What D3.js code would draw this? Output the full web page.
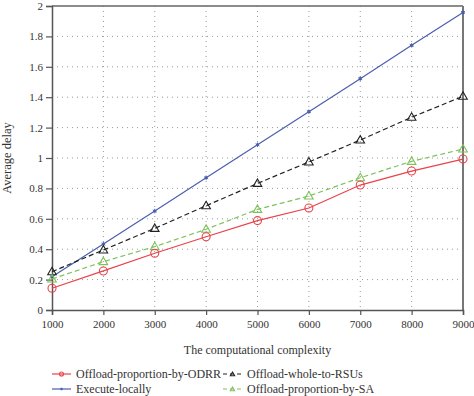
<!DOCTYPE html>
<html>
<head>
<meta charset="utf-8">
<script src="https://cdn.jsdelivr.net/npm/d3@7"></script>
<style>
  body { margin: 0; background: #fff; }
  svg { display: block; font-family: "Liberation Serif", "DejaVu Serif", serif; }
</style>
</head>
<body>
<div id="chart"></div>
<script>
// computational complexity (x values)
const complexity = [1000, 2000, 3000, 4000, 5000, 6000, 7000, 8000, 9000];

// average delay per method
const odrr = [0.143, 0.257, 0.373, 0.482, 0.588, 0.671, 0.822, 0.914, 0.993];
const local = [0.219, 0.434, 0.651, 0.870, 1.087, 1.305, 1.522, 1.741, 1.958];
const wholeRsu = [0.252, 0.395, 0.537, 0.686, 0.833, 0.974, 1.118, 1.268, 1.406];
const saProp = [0.204, 0.318, 0.417, 0.531, 0.662, 0.750, 0.870, 0.978, 1.059];

const xTicks = [1000, 2000, 3000, 4000, 5000, 6000, 7000, 8000, 9000];
const yTicks = [0, 0.2, 0.4, 0.6, 0.8, 1, 1.2, 1.4, 1.6, 1.8, 2];

const series = [
  { name: "Offload-proportion-by-ODRR", values: odrr, color: "#e8434b", dash: null, marker: "circle" },
  { name: "Execute-locally", values: local, color: "#4a5fae", dash: null, marker: "star" },
  { name: "Offload-whole-to-RSUs", values: wholeRsu, color: "#222", dash: "5,3", marker: "triangle" },
  { name: "Offload-proportion-by-SA", values: saProp, color: "#7dc25a", dash: "5,3", marker: "triangle" }
];

const W = 474, H = 396;
const margin = { top: 6, right: 11, bottom: 86, left: 52 };
const width = W - margin.left - margin.right,
  height = H - margin.top - margin.bottom;

const svg = d3.select("#chart")
  .append("svg")
  .attr("width", W)
  .attr("height", H);

const g = svg.append("g")
  .attr("transform", `translate(${margin.left},${margin.top})`);

const x = d3.scaleLinear().domain([1000, 9000]).range([0, width]);
const y = d3.scaleLinear().domain([0, 2]).range([height, 0]);

// dotted grid
g.append("g")
  .selectAll("line")
  .data(xTicks.slice(1, -1))
  .join("line")
  .attr("x1", d => x(d)).attr("x2", d => x(d))
  .attr("y1", 0).attr("y2", height)
  .attr("stroke", "#999").attr("stroke-width", 1)
  .attr("stroke-dasharray", "1,4");
g.append("g")
  .selectAll("line")
  .data(yTicks.slice(1, -1))
  .join("line")
  .attr("x1", 0).attr("x2", width)
  .attr("y1", d => y(d)).attr("y2", d => y(d))
  .attr("stroke", "#999").attr("stroke-width", 1)
  .attr("stroke-dasharray", "1,4");

// frame top / right
g.append("line").attr("x1", 0).attr("x2", width).attr("y1", 0).attr("y2", 0)
  .attr("stroke", "#666").attr("stroke-width", 1.5);
g.append("line").attr("x1", width).attr("x2", width).attr("y1", 0).attr("y2", height)
  .attr("stroke", "#777").attr("stroke-width", 2);

// axes
const xAxis = g.append("g")
  .attr("transform", `translate(0,${height})`)
  .call(d3.axisBottom(x).tickValues(xTicks).tickFormat(d3.format("d")).tickSize(5).tickPadding(5));
const yAxis = g.append("g")
  .call(d3.axisLeft(y).tickValues(yTicks).tickFormat(d => d).tickSize(6).tickPadding(3));
[xAxis, yAxis].forEach(a => {
  a.selectAll("path").attr("stroke", "#555").attr("stroke-width", 1.5);
  a.selectAll("line").attr("stroke", "#555").attr("stroke-width", 1.2);
  a.selectAll("text").attr("fill", "#333").style("font-size", "11px")
    .style("font-family", "'Liberation Serif', serif");
});

// axis titles
svg.append("text")
  .attr("x", margin.left + width / 2)
  .attr("y", 354)
  .attr("text-anchor", "middle")
  .attr("fill", "#333")
  .style("font-size", "12px")
  .text("The computational complexity");
svg.append("text")
  .attr("transform", `translate(11,${margin.top + height / 2}) rotate(-90)`)
  .attr("text-anchor", "middle")
  .attr("fill", "#333")
  .style("font-size", "12.5px")
  .text("Average delay");

function drawMarker(sel, s, size) {
  if (s.marker === "circle") {
    sel.append("circle").attr("r", size)
      .attr("fill", "none").attr("stroke", s.color).attr("stroke-width", 1.1);
  } else if (s.marker === "triangle") {
    sel.append("path").attr("d", d3.symbol(d3.symbolTriangle, size * size * 2)())
      .attr("transform", "translate(0,0.5)")
      .attr("fill", "none").attr("stroke", s.color).attr("stroke-width", 1.1);
  } else {
    sel.append("circle").attr("r", size * 0.45).attr("fill", s.color);
    sel.append("path").attr("d", d3.symbol(d3.symbolAsterisk, size * size * 1.2)())
      .attr("fill", "none").attr("stroke", s.color).attr("stroke-width", 0.8);
  }
}

const line = d3.line().x((d, i) => x(complexity[i])).y(d => y(d));

// draw in order so the red line ends up on top
[series[1], series[2], series[3], series[0]].forEach(s => {
  g.append("path")
    .datum(s.values)
    .attr("d", line)
    .attr("fill", "none")
    .attr("stroke", s.color)
    .attr("stroke-width", 1.2)
    .attr("stroke-dasharray", s.dash);
  g.append("g")
    .selectAll("g")
    .data(s.values)
    .join("g")
    .attr("transform", (d, i) => `translate(${x(complexity[i])},${y(d)})`)
    .each(function () { drawMarker(d3.select(this), s, s.marker === "star" ? 3.5 : 4); });
});

// legend
const legendPos = [
  { x: 52, y: 374 }, { x: 52, y: 389 },
  { x: 223, y: 374 }, { x: 223, y: 389 }
];
series.forEach((s, i) => {
  const p = legendPos[i];
  const lg = svg.append("g").attr("transform", `translate(${p.x},${p.y})`);
  lg.append("line").attr("x1", 0).attr("x2", 19).attr("y1", 0).attr("y2", 0)
    .attr("stroke", s.color).attr("stroke-width", 1.2)
    .attr("stroke-dasharray", s.dash ? "4,3" : null);
  const m = lg.append("g").attr("transform", "translate(9.5,0)");
  drawMarker(m, s, 2);
  lg.append("text").attr("x", 24).attr("y", 4)
    .attr("fill", "#333")
    .style("font-size", "12px")
    .text(s.name);
});
</script>
</body>
</html>
